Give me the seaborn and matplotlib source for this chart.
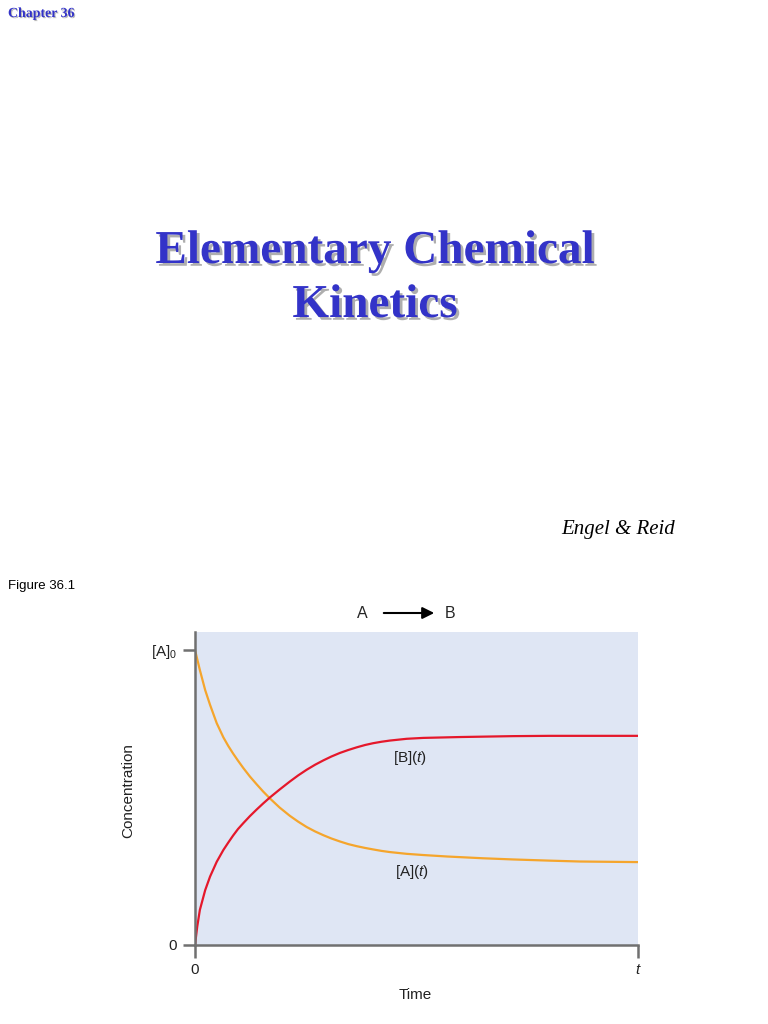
import matplotlib
matplotlib.use("Agg")
import matplotlib.pyplot as plt
import matplotlib.patheffects as pe
import seaborn as sns

# values; time as fraction of the axis, concentration in units of [A]0
time_a = [0.0, 0.011, 0.023, 0.034, 0.049, 0.064, 0.075, 0.086, 0.097, 0.109,
          0.124, 0.139, 0.154, 0.169, 0.191, 0.214, 0.233, 0.252, 0.271, 0.290,
          0.308, 0.327, 0.346, 0.365, 0.384, 0.402, 0.421, 0.440, 0.478, 0.515,
          0.569, 0.650, 0.718, 0.800, 0.869, 1.0]
conc_a = [1.0, 0.932, 0.864, 0.814, 0.752, 0.704, 0.675, 0.649, 0.625, 0.600,
          0.571, 0.545, 0.520, 0.497, 0.466, 0.438, 0.418, 0.400, 0.385, 0.372,
          0.361, 0.351, 0.342, 0.335, 0.329, 0.324, 0.319, 0.315, 0.309, 0.305,
          0.300, 0.294, 0.290, 0.286, 0.283, 0.281]

time_b = [0.0, 0.005, 0.011, 0.023, 0.034, 0.049, 0.064, 0.075, 0.086, 0.097,
          0.109, 0.124, 0.139, 0.154, 0.169, 0.191, 0.214, 0.233, 0.252, 0.271,
          0.290, 0.308, 0.327, 0.346, 0.365, 0.384, 0.402, 0.421, 0.440, 0.478,
          0.515, 0.600, 0.718, 0.800, 0.869, 1.0]
conc_b = [0.0, 0.062, 0.119, 0.186, 0.232, 0.282, 0.322, 0.347, 0.371, 0.393,
          0.413, 0.437, 0.459, 0.480, 0.500, 0.527, 0.554, 0.575, 0.594, 0.611,
          0.626, 0.639, 0.651, 0.661, 0.670, 0.678, 0.684, 0.689, 0.693, 0.699,
          0.702, 0.705, 0.708, 0.709, 0.709, 0.709]

x_ticks = [0, 1]
x_tick_labels = ["0", r"$\mathit{t}$"]
y_ticks = [0, 1]
y_tick_labels = ["0", r"[A]$_\mathregular{0}$"]

sns.set_style("white")
plt.rcParams["font.family"] = ["Liberation Sans", "DejaVu Sans"]
plt.rcParams["mathtext.fontset"] = "custom"
plt.rcParams["mathtext.rm"] = "Liberation Sans"
plt.rcParams["mathtext.it"] = "Liberation Sans:italic"

W, H = 768, 1024
fig = plt.figure(figsize=(7.68, 10.24), dpi=100)

blue = "#3333c8"
shadow_big = [pe.SimplePatchShadow(offset=(2, -2), shadow_rgbFace="#9a9a9a", alpha=0.8), pe.Normal()]
shadow_small = [pe.SimplePatchShadow(offset=(0.8, -0.8), shadow_rgbFace="#9a9a9a", alpha=0.7), pe.Normal()]

fig.text(8 / W, 1 - 17 / H, "Chapter 36", family="Liberation Serif", weight="bold",
         fontsize=10, color=blue, va="baseline", path_effects=shadow_small)
fig.text(375 / W, 1 - 263 / H, "Elementary Chemical", family="Liberation Serif", weight="bold",
         fontsize=34, color=blue, ha="center", va="baseline", path_effects=shadow_big)
fig.text(375 / W, 1 - 317 / H, "Kinetics", family="Liberation Serif", weight="bold",
         fontsize=34, color=blue, ha="center", va="baseline", path_effects=shadow_big)
fig.text(675 / W, 1 - 534 / H, "Engel & Reid", family="Liberation Serif", style="italic",
         fontsize=15, color="black", ha="right", va="baseline")
fig.text(8 / W, 1 - 586 / H, "Figure 36.1", fontsize=9.5, color="black", va="center")

# reaction header A -> B
fig.text(362 / W, 1 - 613 / H, "A", fontsize=11.5, ha="center", va="center")
fig.text(450 / W, 1 - 613 / H, "B", fontsize=11.5, ha="center", va="center")
fig.add_artist(matplotlib.patches.FancyArrowPatch(
    (381 / W, 1 - 613 / H), (437 / W, 1 - 613 / H), transform=fig.transFigure,
    arrowstyle="-|>,head_length=7,head_width=3.5", color="black", lw=1.5))

ax = fig.add_axes([195 / W, 1 - 945 / H, 443 / W, 313 / H])
ax.set_facecolor("#dfe6f4")

sns.lineplot(x=time_a, y=conc_a, ax=ax, color="#f5a52c", linewidth=1.6, sort=False)
sns.lineplot(x=time_b, y=conc_b, ax=ax, color="#e5182b", linewidth=1.6, sort=False)

ax.text(0.447, 0.634, r"[B]($\mathit{t}$)", fontsize=11, color="#222222", va="center")
ax.text(0.451, 0.247, r"[A]($\mathit{t}$)", fontsize=11, color="#222222", va="center")

ax.set_xlim(0, 1)
ax.set_ylim(0, 1.061)
ax.set_xticks(x_ticks, labels=x_tick_labels)
ax.set_yticks(y_ticks, labels=y_tick_labels)
ax.tick_params(axis="both", left=True, bottom=True, length=9, width=1.8, color="#707070",
               labelsize=11, labelcolor="#222222", pad=4)

for side in ["top", "right"]:
    ax.spines[side].set_visible(False)
for side in ["left", "bottom"]:
    ax.spines[side].set_color("#707070")
    ax.spines[side].set_linewidth(1.8)

ax.set_xlabel("Time", fontsize=11, color="#222222", va="top")
ax.xaxis.set_label_coords(0.497, -0.137)
ax.set_ylabel("Concentration", fontsize=11, color="#222222")
ax.yaxis.set_label_coords(-0.135, 0.495)

fig.savefig("out.png", dpi=100)
